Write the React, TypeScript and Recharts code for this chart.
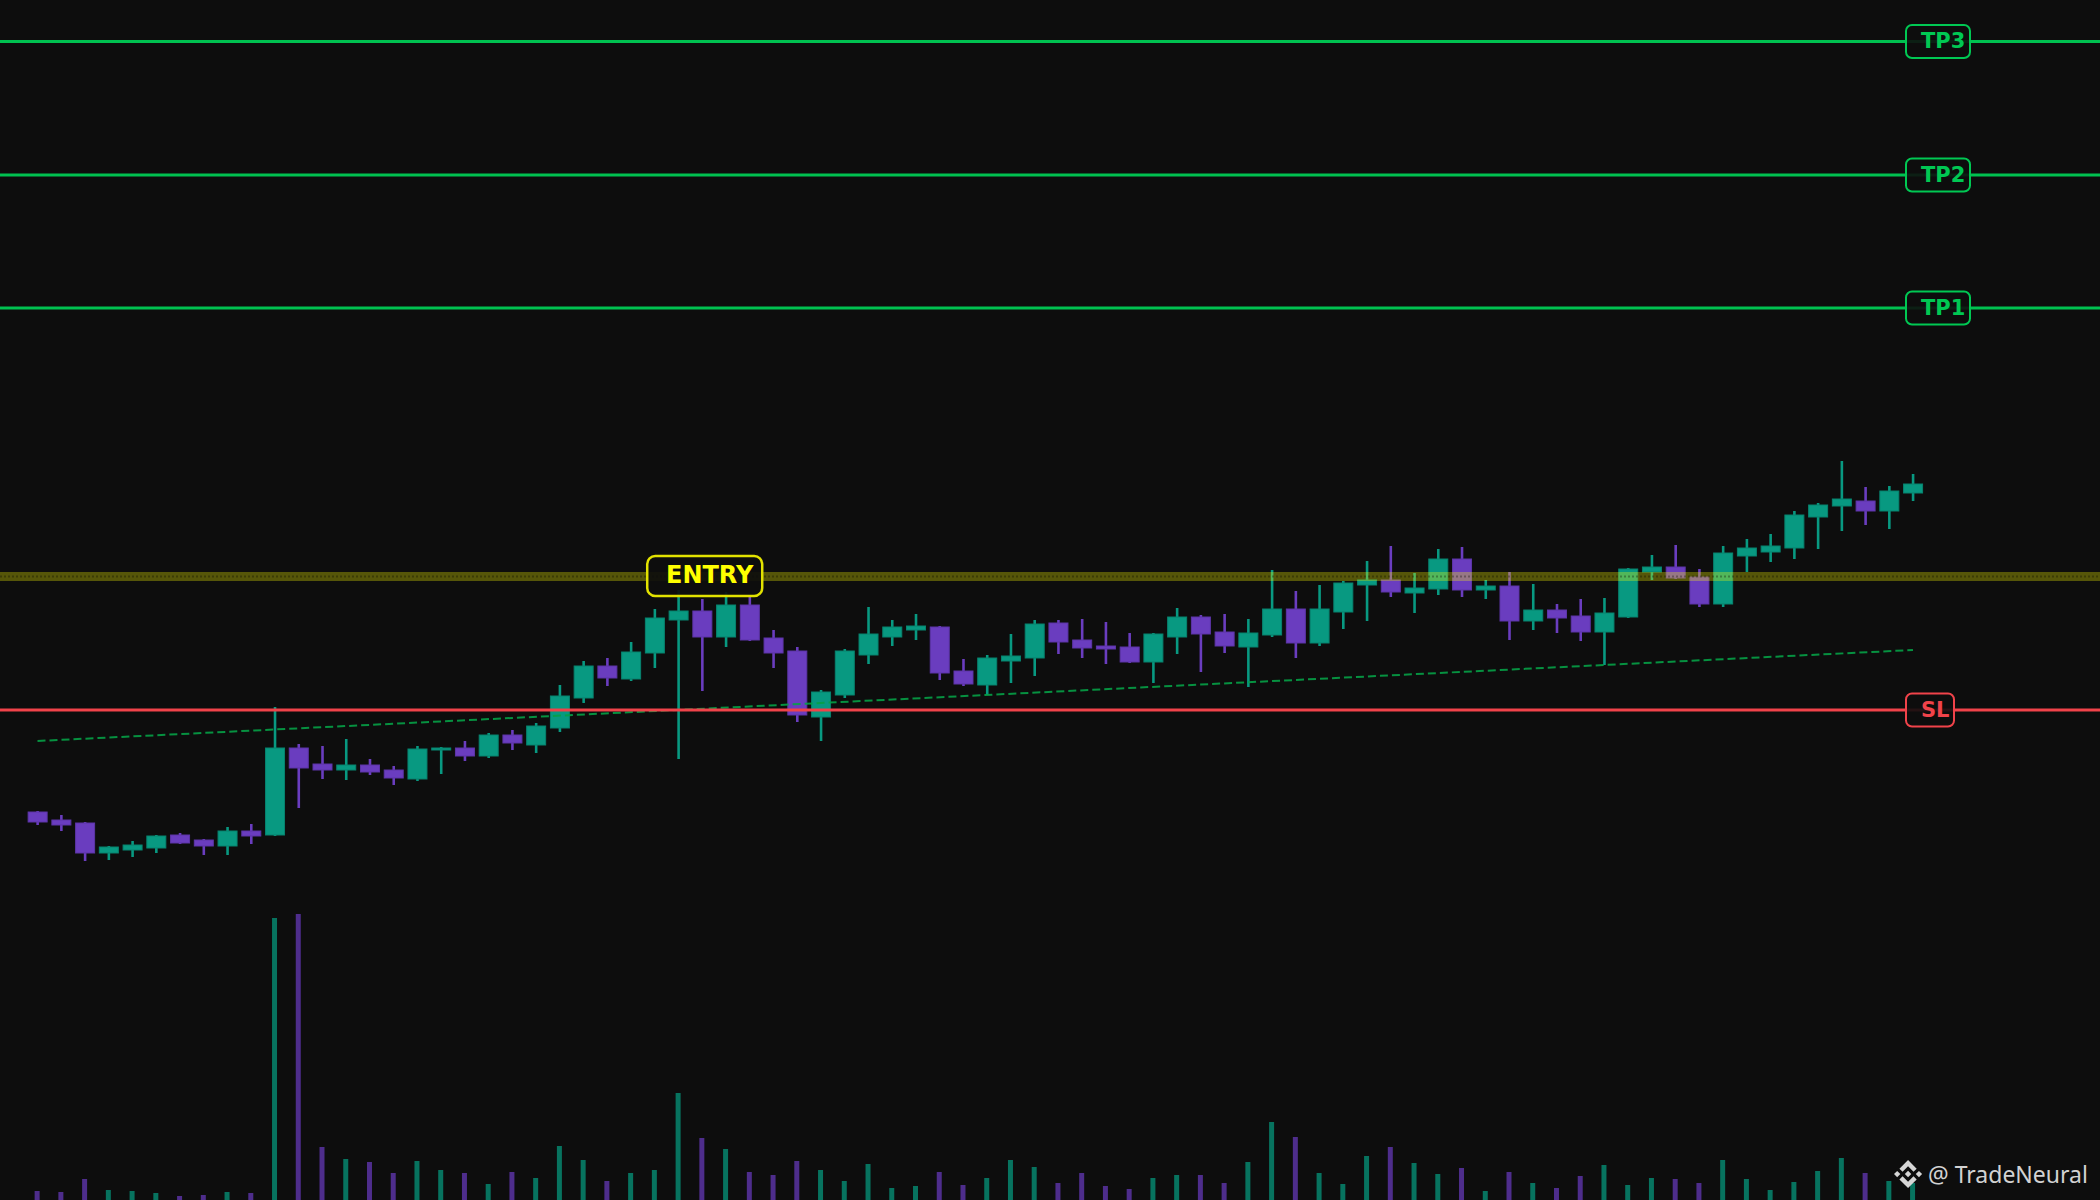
import React from 'react';
import { ComposedChart, Bar, XAxis, YAxis, ReferenceLine, ReferenceDot } from 'recharts';

// ---- data ----
const opens = [
  3.88, 3.80, 3.77, 3.47, 3.50, 3.52, 3.65, 3.60, 3.54, 3.69,
  3.65, 4.52, 4.36, 4.30, 4.35, 4.30, 4.21, 4.50, 4.52, 4.44,
  4.65, 4.55, 4.72, 5.02, 5.34, 5.21, 5.47, 5.80, 5.89, 5.63,
  5.95, 5.62, 5.49, 4.83, 5.05, 5.45, 5.63, 5.70, 5.73, 5.29,
  5.15, 5.39, 5.42, 5.77, 5.60, 5.54, 5.53, 5.38, 5.63, 5.83,
  5.68, 5.53, 5.65, 5.91, 5.57, 5.88, 6.15, 6.20, 6.07, 6.11,
  6.41, 6.10, 6.14, 5.79, 5.90, 5.84, 5.68, 5.83, 6.28, 6.33,
  6.23, 5.96, 6.44, 6.48, 6.52, 6.83, 6.94, 6.99, 6.89, 7.07,
];
const highs = [
  3.89, 3.85, 3.78, 3.54, 3.59, 3.65, 3.67, 3.61, 3.73, 3.76,
  4.93, 4.56, 4.54, 4.61, 4.41, 4.34, 4.54, 4.53, 4.59, 4.67,
  4.70, 4.77, 5.15, 5.39, 5.42, 5.58, 5.91, 6.10, 6.01, 6.08,
  6.05, 5.70, 5.53, 5.10, 5.51, 5.93, 5.80, 5.86, 5.74, 5.41,
  5.45, 5.66, 5.80, 5.80, 5.81, 5.78, 5.67, 5.67, 5.92, 5.85,
  5.86, 5.81, 6.30, 6.09, 6.15, 6.19, 6.39, 6.54, 6.27, 6.51,
  6.53, 6.20, 6.28, 6.16, 5.96, 6.01, 6.02, 6.32, 6.45, 6.55,
  6.31, 6.54, 6.61, 6.66, 6.89, 6.97, 7.39, 7.13, 7.14, 7.26,
];
const lows = [
  3.75, 3.69, 3.39, 3.40, 3.43, 3.47, 3.56, 3.45, 3.45, 3.56,
  3.64, 3.92, 4.21, 4.20, 4.25, 4.15, 4.19, 4.26, 4.39, 4.42,
  4.50, 4.47, 4.68, 4.97, 5.14, 5.19, 5.32, 4.41, 5.09, 5.53,
  5.59, 5.32, 4.78, 4.59, 5.02, 5.36, 5.54, 5.60, 5.20, 5.14,
  5.05, 5.17, 5.24, 5.46, 5.42, 5.36, 5.37, 5.17, 5.46, 5.28,
  5.47, 5.13, 5.63, 5.42, 5.54, 5.71, 5.79, 6.03, 5.87, 6.05,
  6.03, 6.01, 5.60, 5.70, 5.67, 5.59, 5.35, 5.82, 6.20, 6.21,
  5.93, 5.93, 6.28, 6.38, 6.41, 6.51, 6.69, 6.75, 6.71, 6.99,
];
const closes = [
  3.78, 3.75, 3.47, 3.53, 3.55, 3.64, 3.57, 3.54, 3.69, 3.64,
  4.52, 4.32, 4.30, 4.35, 4.28, 4.22, 4.51, 4.52, 4.44, 4.65,
  4.57, 4.74, 5.04, 5.34, 5.22, 5.48, 5.82, 5.89, 5.63, 5.95,
  5.60, 5.47, 4.85, 5.08, 5.49, 5.66, 5.73, 5.74, 5.27, 5.16,
  5.42, 5.44, 5.76, 5.58, 5.52, 5.51, 5.38, 5.66, 5.83, 5.66,
  5.54, 5.67, 5.91, 5.57, 5.91, 6.17, 6.20, 6.08, 6.12, 6.41,
  6.10, 6.14, 5.79, 5.90, 5.82, 5.68, 5.87, 6.31, 6.33, 6.22,
  5.96, 6.47, 6.52, 6.54, 6.85, 6.95, 7.01, 6.89, 7.09, 7.16,
];
const volumeK = [
  9, 8, 21, 10, 9, 7, 4, 5, 8, 7,
  282, 286, 53, 41, 38, 27, 39, 30, 27, 16,
  28, 22, 54, 40, 19, 27, 30, 107, 62, 51,
  28, 25, 39, 30, 19, 36, 12, 14, 28, 15,
  22, 40, 33, 17, 27, 14, 11, 22, 25, 25,
  17, 38, 78, 63, 27, 16, 44, 53, 37, 26,
  32, 9, 28, 17, 12, 24, 35, 15, 22, 21,
  17, 40, 21, 10, 18, 29, 42, 27, 19, 17,
];

const levelNames = ['TP3', 'TP2', 'TP1'];
const levelPrices = [11.585, 10.25, 8.92];
const entryPrice = 6.235;
const slPrice = 4.9;
const entryIndex = 28;
const trendIndices = [0, 79];
const trendPrices = [4.59, 5.5];

const data = opens.map((o, i) => ({
  i,
  open: o,
  high: highs[i],
  low: lows[i],
  close: closes[i],
  vol: volumeK[i],
}));

// ---- styles ----
const BG = '#0d0d0d';
const UP = '#089981';
const UP_EDGE = '#07836f';
const DN = '#6a3dbf';
const DN_EDGE = '#5d35a8';
const VUP = '#07735f';
const VDN = '#4e2d8c';
const GREEN = '#00c150';
const RED = '#f0434a';
const YELLOW = '#ffff00';

const X_DOMAIN: [number, number] = [-1.5796, 86.879];

const Candle = (props: any) => {
  const { x, y, width, height, payload } = props;
  if (!payload) return null;
  const top0 = Math.min(y, y + height);
  const h = Math.abs(height);
  const { open, close, high, low } = payload;
  const up = close >= open;
  const range = high - low || 1;
  const toY = (v: number) => top0 + ((high - v) / range) * h;
  const cx = x + width / 2;
  const bt = toY(Math.max(open, close));
  const bb = toY(Math.min(open, close));
  const color = up ? UP : DN;
  return (
    <g>
      <line x1={cx} x2={cx} y1={top0} y2={top0 + h} stroke={color} strokeWidth={2.6} />
      <rect
        x={x + 0.5}
        y={bt}
        width={width - 1}
        height={Math.max(bb - bt, 2)}
        fill={color}
        stroke={up ? UP_EDGE : DN_EDGE}
        strokeWidth={1}
      />
    </g>
  );
};

const VolBar = (props: any) => {
  const { x, y, width, height, payload } = props;
  if (!payload) return null;
  const up = payload.close >= payload.open;
  const t = Math.min(y, y + height);
  return <rect x={x} y={t} width={width} height={Math.abs(height)} fill={up ? VUP : VDN} />;
};

const Tag = (props: any) => {
  const { viewBox, text, color, w } = props;
  if (!viewBox) return null;
  const yy = viewBox.y;
  const x0 = viewBox.x + viewBox.width - 194;
  return (
    <g>
      <rect x={x0} y={yy - 16.5} width={w} height={33} rx={6} ry={6} fill={BG} fillOpacity={0.9} stroke={color} strokeWidth={2} />
      <text x={x0 + 15} y={yy + 6.5} fill={color} fontFamily="DejaVu Sans" fontWeight="bold" fontSize={21}>
        {text}
      </text>
    </g>
  );
};

const EntryTag = (props: any) => {
  const { cx, cy } = props;
  if (cx == null || cy == null) return null;
  return (
    <g>
      <rect x={cx - 55} y={cy - 20.5} width={115} height={40} rx={8} ry={8} fill={BG} fillOpacity={0.92} stroke="#e2e200" strokeWidth={2.5} />
      <text x={cx + 7.5} y={cy + 6.5} textAnchor="middle" fill={YELLOW} fontFamily="DejaVu Sans" fontWeight="bold" fontSize={24}>
        ENTRY
      </text>
    </g>
  );
};

const BinanceLogo = ({ x, y, s }: { x: number; y: number; s: number }) => (
  <g transform={`translate(${x},${y}) scale(${s})`} fill="#d6d6d6">
    <polygon points="38.73,53.2 63.3,28.64 87.89,53.22 102.19,38.92 63.3,0 24.42,38.9" />
    <polygon points="0,63.31 14.3,49.01 28.6,63.31 14.3,77.61" />
    <polygon points="38.73,73.41 63.3,97.98 87.89,73.4 102.19,87.69 63.3,126.61 24.42,87.71" />
    <polygon points="97.99,63.31 112.29,49.01 126.59,63.31 112.29,77.61" />
    <polygon points="77.83,63.3 63.3,48.77 48.77,63.3 63.3,77.83" />
  </g>
);

export default function App() {
  return (
    <div style={{ position: 'absolute', left: 0, top: 0, width: 2100, height: 1200, background: BG, overflow: 'hidden' }}>
      <style>{`body{margin:0;background:${BG};}`}</style>
      <ComposedChart width={2100} height={1200} data={data} margin={{ top: 0, right: 0, bottom: 0, left: 0 }}>
        <XAxis xAxisId="xc" type="number" dataKey="i" domain={X_DOMAIN} allowDataOverflow hide />
        <XAxis xAxisId="xv" type="number" dataKey="i" domain={X_DOMAIN} allowDataOverflow hide />
        <YAxis yAxisId="price" type="number" domain={[0, 12]} allowDataOverflow hide />
        <YAxis yAxisId="vol" type="number" domain={[0, 1200]} allowDataOverflow hide />

        <Bar
          xAxisId="xv"
          yAxisId="vol"
          dataKey="vol"
          barSize={5}
          shape={VolBar}
          isAnimationActive={false}
        />
        <Bar
          xAxisId="xc"
          yAxisId="price"
          dataKey={(d: any) => [d.low, d.high]}
          barSize={20}
          shape={Candle}
          isAnimationActive={false}
        />

        <ReferenceLine
          xAxisId="xc"
          yAxisId="price"
          segment={[
            { x: trendIndices[0], y: trendPrices[0] },
            { x: trendIndices[1], y: trendPrices[1] },
          ]}
          stroke="#06a046"
          strokeOpacity={0.9}
          strokeWidth={2}
          strokeDasharray="8 4"
        />

        <ReferenceLine xAxisId="xc" yAxisId="price" y={entryPrice} stroke={YELLOW} strokeOpacity={0.3} strokeWidth={9} />
        <ReferenceLine xAxisId="xc" yAxisId="price" y={entryPrice} stroke="#000000" strokeOpacity={0.3} strokeWidth={2} strokeDasharray="2 2" />

        {levelPrices.map((p, k) => (
          <ReferenceLine
            key={levelNames[k]}
            xAxisId="xc"
            yAxisId="price"
            y={p}
            stroke={GREEN}
            strokeWidth={3}
            label={<Tag text={levelNames[k]} color="#00c853" w={64} />}
          />
        ))}
        <ReferenceLine
          xAxisId="xc"
          yAxisId="price"
          y={slPrice}
          stroke={RED}
          strokeWidth={3}
          label={<Tag text="SL" color={RED} w={48} />}
        />
        <ReferenceDot xAxisId="xc" yAxisId="price" x={entryIndex} y={entryPrice} r={1} shape={EntryTag} />
      </ComposedChart>
      <svg width={2100} height={1200} style={{ position: 'absolute', left: 0, top: 0, pointerEvents: 'none' }}>
        <BinanceLogo x={1894} y={1160} s={0.222} />
        <text x={1928} y={1183} fill="#d2d2d2" fontFamily="Noto Sans" fontSize={23}>
          @ TradeNeural
        </text>
      </svg>
    </div>
  );
}
